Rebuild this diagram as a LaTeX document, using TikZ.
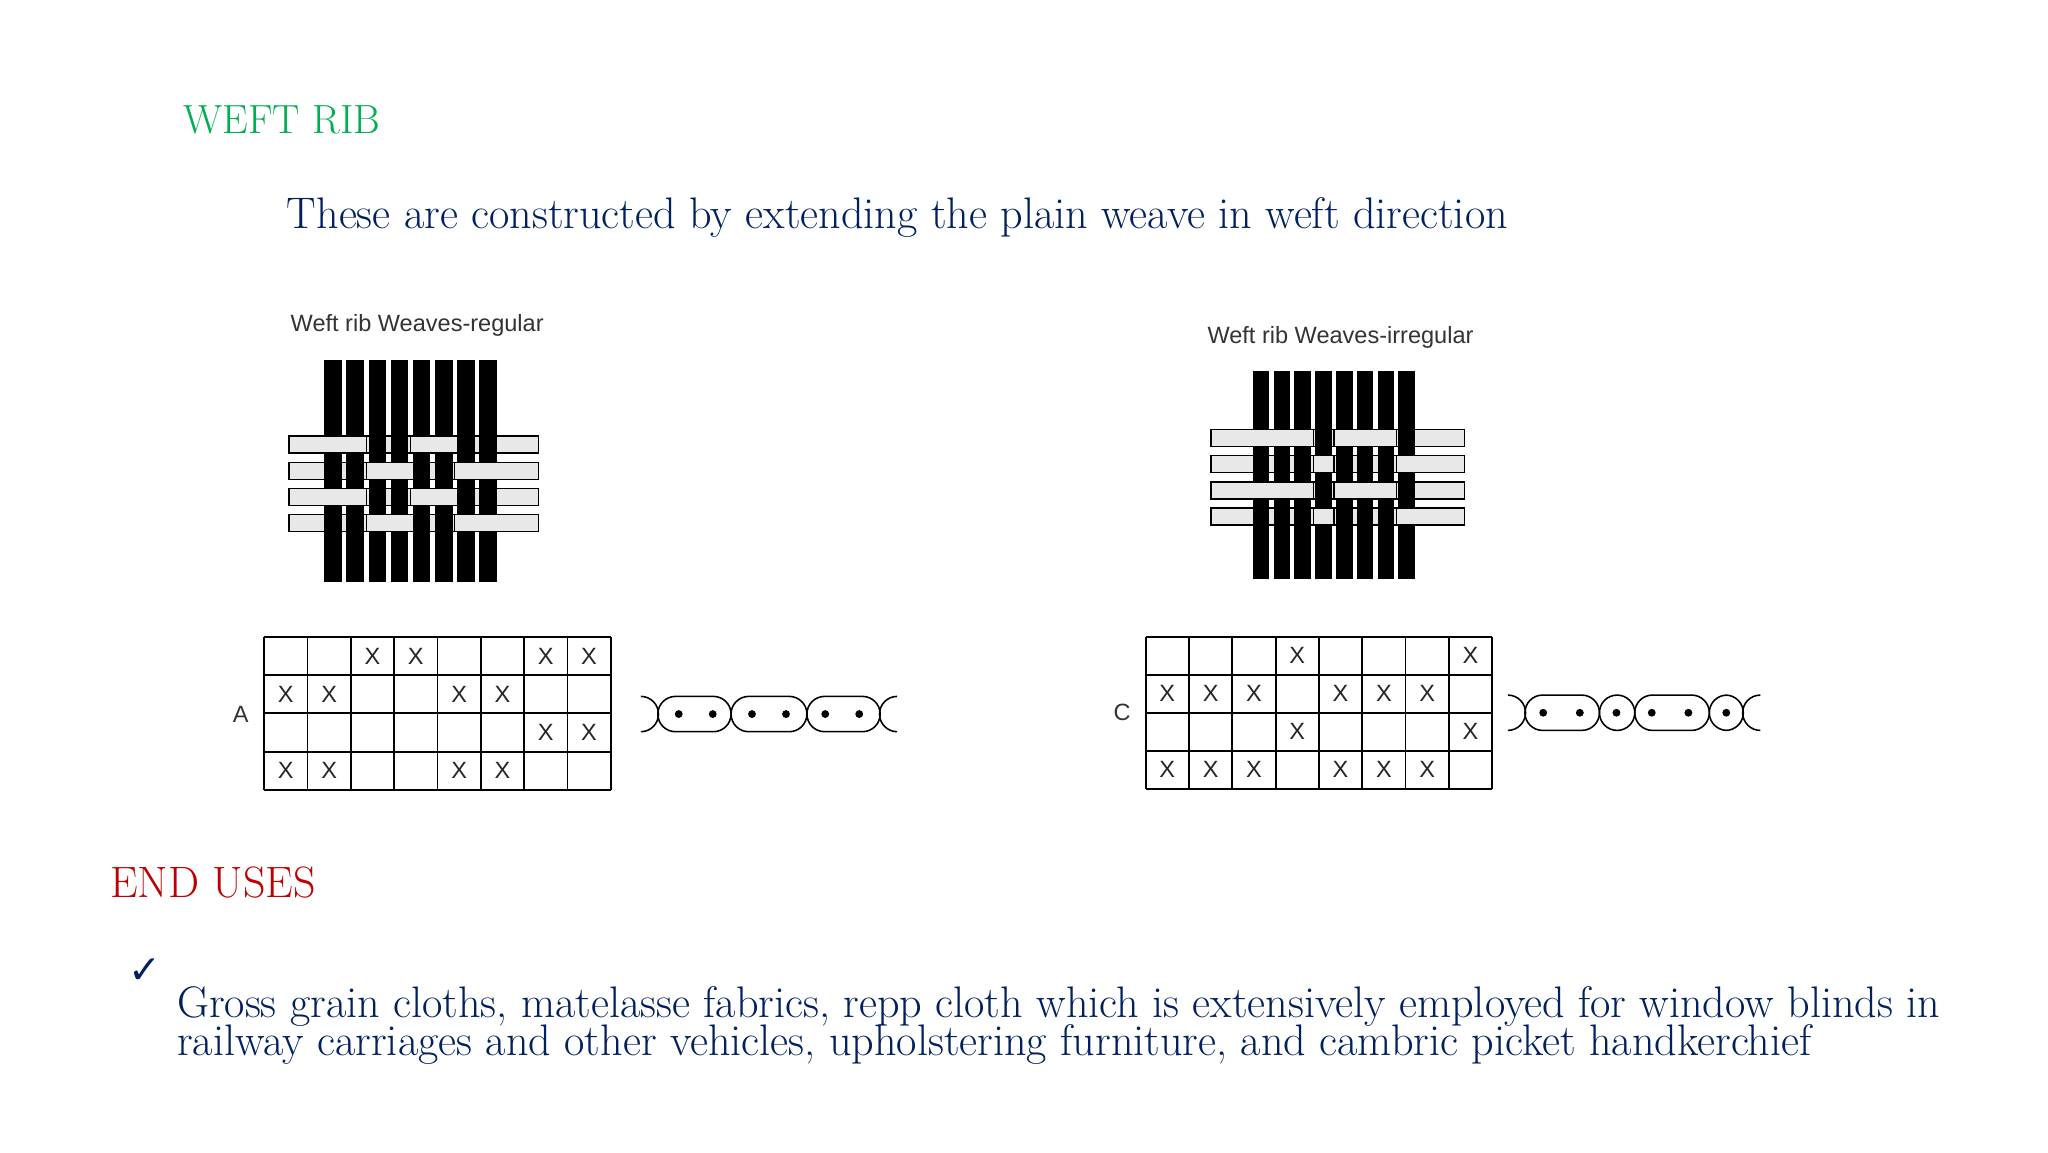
\documentclass[tikz,border=0pt]{standalone}
\usepackage{fontspec}
\newfontfamily\symfont{DejaVu Sans}
\newfontfamily\lsans{Liberation Sans}
\definecolor{navy}{RGB}{0,32,96}
\definecolor{tgreen}{RGB}{0,176,80}
\definecolor{tred}{RGB}{192,0,0}
\definecolor{weft}{RGB}{232,232,232}
\tikzset{
  wf/.style={fill=weft,draw=black,line width=0.5pt},
  wp/.style={fill=black},
  gridln/.style={draw=black,line width=0.7pt},
  xm/.style={font=\lsans\fontsize{9}{10}\selectfont,text=black!85,inner sep=0},
  captxt/.style={font=\lsans\fontsize{9}{10}\selectfont,text=black!80,inner sep=0},
  chain/.style={draw=black,line width=0.6pt},
  body/.style={font=\fontsize{16.9}{18}\selectfont,text=navy,anchor=base west,inner sep=0}
}
\begin{document}
\begin{tikzpicture}[x=0.5pt,y=-0.5pt]
\useasboundingbox (0,0) rectangle (1566,881);
% headings
\node[anchor=base west,inner sep=0,text=tgreen,font=\fontsize{15.6}{17}\selectfont] (t1) at (140,102) {WEFT RIB};
\node[body] (t2) at (219,175) {These are constructed by extending the plain weave in weft direction};
\node[anchor=base west,inner sep=0,text=tred,font=\fontsize{16.8}{18}\selectfont] (t3) at (84,686) {END USES};
\node[anchor=base west,inner sep=0,text=navy,font=\symfont\fontsize{15}{16}\selectfont] (ck) at (98,752) {✓};
\node[body] (b1) at (135,778) {Gross grain cloths, matelasse fabrics, repp cloth which is extensively employed for window blinds in};
\node[body] (b2) at (135,807) {railway carriages and other vehicles, upholstering furniture, and cambric picket handkerchief};
% captions
\node[captxt] (c1) at (319,249) {Weft rib Weaves-regular};
\node[captxt] (c2) at (1025,258) {Weft rib Weaves-irregular};
% left weave
\foreach \yc in {340,360,380,400} \draw[wf] (221,\yc-6.5) rectangle (412,\yc+6.5);
\foreach \i in {0,...,7} \fill[wp] (248+16.9*\i,275) rectangle +(13.5,170);
\foreach \yc in {340,380} {
  \draw[wf] (221,\yc-6.5) rectangle (280.1,\yc+6.5);
  \draw[wf] (313.9,\yc-6.5) rectangle (349.7,\yc+6.5);}
\foreach \yc in {360,400} {
  \draw[wf] (280.1,\yc-6.5) rectangle (316,\yc+6.5);
  \draw[wf] (347.7,\yc-6.5) rectangle (412,\yc+6.5);}
% right weave
\foreach \yc in {335,355,375,395} \draw[wf] (926,\yc-6.5) rectangle (1120,\yc+6.5);
\foreach \i in {0,...,7} \fill[wp] (958+15.9*\i,284) rectangle +(12.7,159);
\foreach \yc in {335,375} {
  \draw[wf] (926,\yc-6.5) rectangle (1004.1,\yc+6.5);
  \draw[wf] (1020,\yc-6.5) rectangle (1067.7,\yc+6.5);}
\foreach \yc in {355,395} {
  \draw[wf] (1004.1,\yc-6.5) rectangle (1020,\yc+6.5);
  \draw[wf] (1067.7,\yc-6.5) rectangle (1120,\yc+6.5);}
% grid A
\foreach \i in {0,...,8} \draw[gridln] (202+33.125*\i,487) -- (202+33.125*\i,604);
\foreach \j in {0,...,4} \draw[gridln] (202,487+29.25*\j) -- (467,487+29.25*\j);
\foreach \c/\r in {3/1,4/1,7/1,8/1,1/2,2/2,5/2,6/2,7/3,8/3,1/4,2/4,5/4,6/4}
  \node[xm] at (202+33.125*\c-16.56,487+29.25*\r-14.6) {X};
\node[captxt] (la) at (184,546) {A};
% grid C
\foreach \i in {0,...,8} \draw[gridln] (876+33.125*\i,487) -- (876+33.125*\i,603);
\foreach \j in {0,...,4} \draw[gridln] (876,487+29*\j) -- (1141,487+29*\j);
\foreach \c/\r in {4/1,8/1,1/2,2/2,3/2,5/2,6/2,7/2,4/3,8/3,1/4,2/4,3/4,5/4,6/4,7/4}
  \node[xm] at (876+33.125*\c-16.56,487+29*\r-14.5) {X};
\node[captxt] (lc) at (858,545) {C};
% chain A
\def\rr{13.5}
\draw[chain] (490,546-\rr) arc[start angle=-90,end angle=90,radius=\rr];
\foreach \a/\b in {503/559,559/617,617/673}
  \draw[chain,rounded corners=6.75pt] (\a,546-\rr) rectangle (\b,546+\rr);
\draw[chain] (686,546-\rr) arc[start angle=-90,end angle=-270,radius=\rr];
\foreach \x in {519,545,575,601,631,657} \fill (\x,546) circle[radius=3];
% chain C
\draw[chain] (1153,545-\rr) arc[start angle=-90,end angle=90,radius=\rr];
\foreach \a/\b in {1166/1223,1223/1250,1250/1307,1307/1333}
  \draw[chain,rounded corners=6.75pt] (\a,545-\rr) rectangle (\b,545+\rr);
\draw[chain] (1346,545-\rr) arc[start angle=-90,end angle=-270,radius=\rr];
\foreach \x in {1180,1208,1236,1263,1291,1320} \fill (\x,545) circle[radius=3];
\end{tikzpicture}
\end{document}
